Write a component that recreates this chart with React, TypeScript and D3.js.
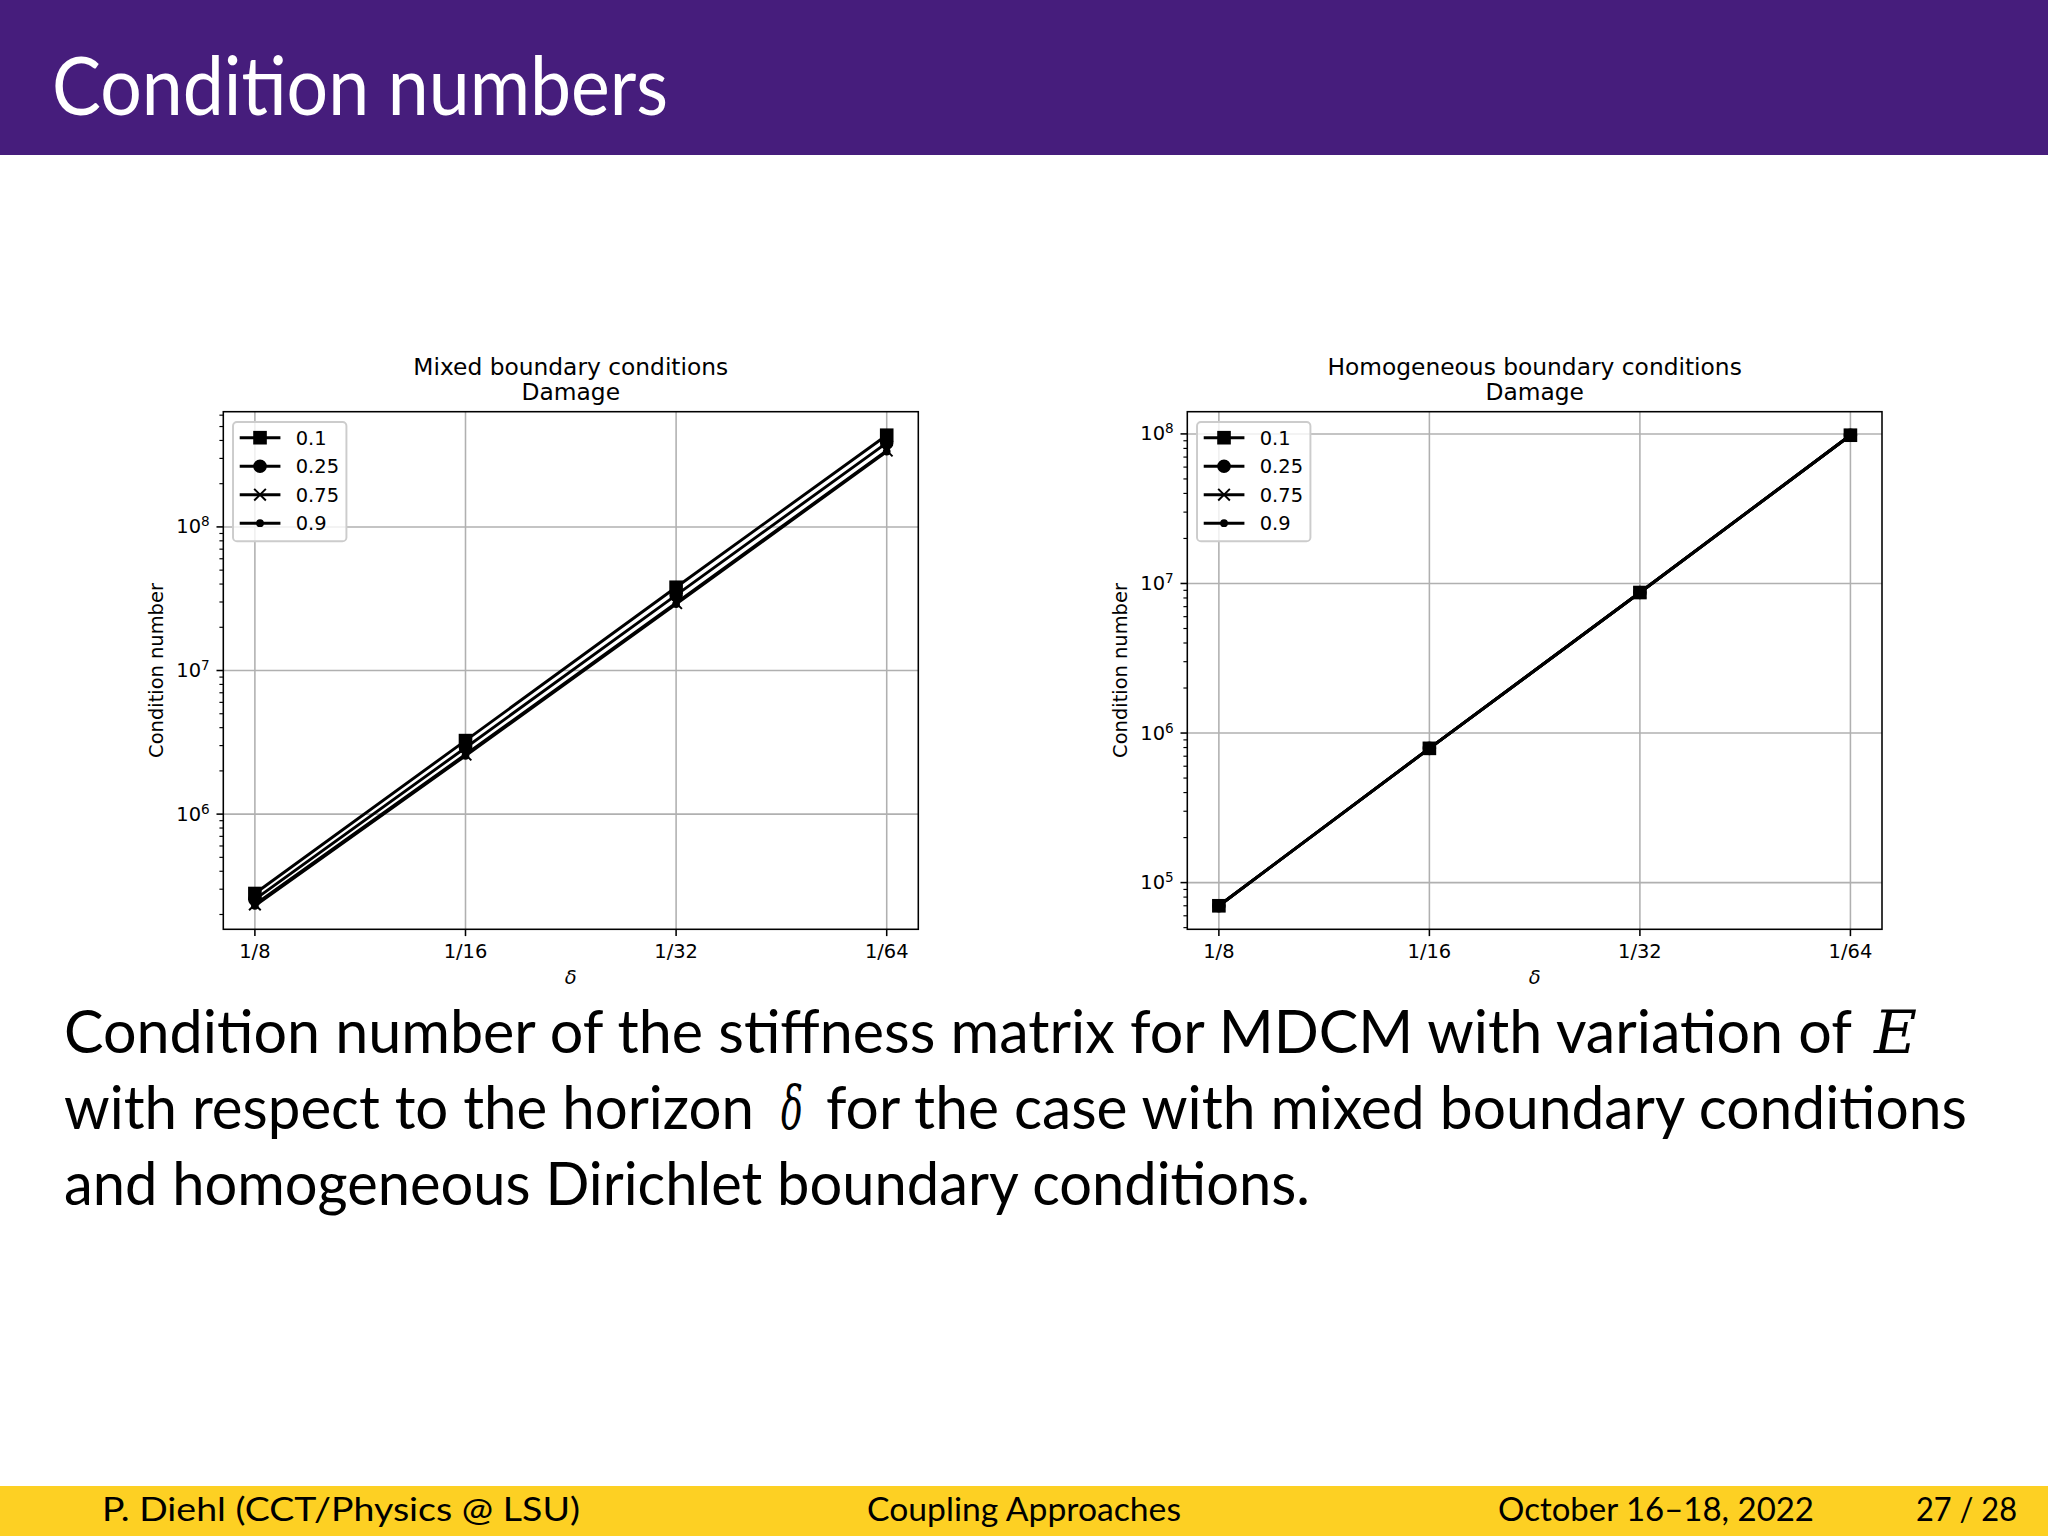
import React, { useRef, useEffect } from 'react';
import * as d3 from 'd3';

// horizon values on the x axis (plotted as 1/delta, labelled as delta)
const deltaLabels = ['1/8', '1/16', '1/32', '1/64'];
const inverseDelta = [8, 16, 32, 64];

const damageLabels = ['0.1', '0.25', '0.75', '0.9'];
const markerKinds = ['square', 'circle', 'x', 'point'];

// Mixed boundary conditions
const mixed01 = [2.8e5, 3.25e6, 3.8e7, 4.35e8];
const mixed025 = [2.55e5, 2.9e6, 3.35e7, 3.85e8];
const mixed075 = [2.35e5, 2.6e6, 2.95e7, 3.4e8];
const mixed09 = [2.3e5, 2.55e6, 2.9e7, 3.35e8];

// Homogeneous boundary conditions (all curves on top of each other)
const homog01 = [7.0e4, 7.9e5, 8.7e6, 9.8e7];
const homog025 = [7.0e4, 7.9e5, 8.7e6, 9.8e7];
const homog075 = [7.0e4, 7.9e5, 8.7e6, 9.8e7];
const homog09 = [7.0e4, 7.9e5, 8.7e6, 9.8e7];

const W = 2048;
const H = 1536;
const PT = 140 / 72; // matplotlib points -> px
const FS = 10 * PT;

const padLog = (lo: number, hi: number) => {
  const a = Math.log10(lo), b = Math.log10(hi);
  const m = (b - a) * 0.05;
  return [Math.pow(10, a - m), Math.pow(10, b + m)];
};

const drawMarker = (g: any, kind: string, cx: number, cy: number) => {
  const s = 6 * PT;
  const ew = 1 * PT;
  if (kind === 'square') {
    g.append('rect').attr('x', cx - s / 2).attr('y', cy - s / 2).attr('width', s).attr('height', s)
      .attr('fill', 'black').attr('stroke', 'black').attr('stroke-width', ew);
  } else if (kind === 'circle') {
    g.append('circle').attr('cx', cx).attr('cy', cy).attr('r', s / 2)
      .attr('fill', 'black').attr('stroke', 'black').attr('stroke-width', ew);
  } else if (kind === 'x') {
    const h = s / 2;
    g.append('path').attr('d', `M${cx - h},${cy - h}L${cx + h},${cy + h}M${cx - h},${cy + h}L${cx + h},${cy - h}`)
      .attr('stroke', 'black').attr('stroke-width', ew).attr('fill', 'none');
  } else {
    g.append('circle').attr('cx', cx).attr('cy', cy).attr('r', s / 4)
      .attr('fill', 'black').attr('stroke', 'black').attr('stroke-width', ew);
  }
};

const drawChart = (svg: any, box: any, titleLines: string[], series: number[][]) => {
  const g = svg.append('g').style('font-family', '"DejaVu Sans", sans-serif');

  const x = d3.scaleLog().base(2)
    .domain(padLog(d3.min(inverseDelta)!, d3.max(inverseDelta)!))
    .range([box.left, box.right]);

  const all = series.flat();
  const y = d3.scaleLog()
    .domain(padLog(d3.min(all)!, d3.max(all)!))
    .range([box.bottom, box.top]);

  const [ylo, yhi] = y.domain();
  const majors = d3.range(Math.ceil(Math.log10(ylo)), Math.floor(Math.log10(yhi)) + 1);
  const minors: number[] = [];
  for (let e = Math.floor(Math.log10(ylo)); e <= Math.floor(Math.log10(yhi)); e++) {
    for (let k = 2; k <= 9; k++) {
      const v = k * Math.pow(10, e);
      if (v >= ylo && v <= yhi) minors.push(v);
    }
  }

  // grid
  const grid = g.append('g').attr('stroke', '#b0b0b0').attr('stroke-width', 0.8 * PT);
  inverseDelta.forEach(v => {
    grid.append('line').attr('x1', x(v)).attr('x2', x(v)).attr('y1', box.top).attr('y2', box.bottom);
  });
  majors.forEach(e => {
    const yy = y(Math.pow(10, e));
    grid.append('line').attr('x1', box.left).attr('x2', box.right).attr('y1', yy).attr('y2', yy);
  });

  // data
  const line = d3.line<number>()
    .x((d, i) => x(inverseDelta[i]))
    .y(d => y(d));

  series.forEach((s, si) => {
    g.append('path').attr('d', line(s)).attr('fill', 'none')
      .attr('stroke', 'black').attr('stroke-width', 1.5 * PT).attr('stroke-linejoin', 'round');
    s.forEach((d, i) => drawMarker(g, markerKinds[si], x(inverseDelta[i]), y(d)));
  });

  // spines
  g.append('rect').attr('x', box.left).attr('y', box.top)
    .attr('width', box.right - box.left).attr('height', box.bottom - box.top)
    .attr('fill', 'none').attr('stroke', 'black').attr('stroke-width', 0.8 * PT);

  // x ticks
  const major = 3.5 * PT;
  const minor = 2 * PT;
  inverseDelta.forEach((v, i) => {
    g.append('line').attr('x1', x(v)).attr('x2', x(v)).attr('y1', box.bottom).attr('y2', box.bottom + major)
      .attr('stroke', 'black').attr('stroke-width', 0.8 * PT);
    g.append('text').attr('x', x(v)).attr('y', box.bottom + major + 3.5 * PT + 0.76 * FS)
      .attr('text-anchor', 'middle').attr('font-size', FS).text(deltaLabels[i]);
  });

  // y ticks
  majors.forEach(e => {
    const yy = y(Math.pow(10, e));
    g.append('line').attr('x1', box.left - major).attr('x2', box.left).attr('y1', yy).attr('y2', yy)
      .attr('stroke', 'black').attr('stroke-width', 0.8 * PT);
    const t = g.append('text').attr('x', box.left - major - 3.5 * PT).attr('y', yy + 6.5)
      .attr('text-anchor', 'end').attr('font-size', FS);
    t.append('tspan').text('10');
    t.append('tspan').attr('font-size', FS * 0.7).attr('dy', -7).text(String(e));
  });
  minors.forEach(v => {
    const yy = y(v);
    g.append('line').attr('x1', box.left - minor).attr('x2', box.left).attr('y1', yy).attr('y2', yy)
      .attr('stroke', 'black').attr('stroke-width', 0.6 * PT);
  });

  const cx = (box.left + box.right) / 2;
  const cy = (box.top + box.bottom) / 2;

  // axis labels
  g.append('text').attr('x', cx).attr('y', 984).attr('text-anchor', 'middle')
    .attr('font-size', FS).attr('font-style', 'italic').text('δ');
  g.append('text').attr('transform', `translate(${box.left - 60},${cy}) rotate(-90)`)
    .attr('text-anchor', 'middle').attr('font-size', FS).text('Condition number');

  // title
  titleLines.forEach((t, i) => {
    g.append('text').attr('x', cx).attr('y', 374.5 + i * 25.7).attr('text-anchor', 'middle')
      .attr('font-size', 12 * PT).text(t);
  });

  // legend
  const lx = box.left + 0.5 * FS;
  const ly = box.top + 10.3;
  const leg = g.append('g');
  leg.append('rect').attr('x', lx).attr('y', ly).attr('width', 113.4).attr('height', 119.3)
    .attr('rx', 0.2 * FS).attr('fill', 'white').attr('fill-opacity', 0.8)
    .attr('stroke', '#cccccc').attr('stroke-width', 1 * PT);
  damageLabels.forEach((lab, i) => {
    const ry = ly + 15.7 + i * 28.5;
    leg.append('line').attr('x1', lx + 6.7).attr('x2', lx + 47.4).attr('y1', ry).attr('y2', ry)
      .attr('stroke', 'black').attr('stroke-width', 1.5 * PT);
    drawMarker(leg, markerKinds[i], lx + 27, ry);
    leg.append('text').attr('x', lx + 62.7).attr('y', ry + 7).attr('font-size', FS).text(lab);
  });
};

const App = () => {
  const svgRef = useRef<SVGSVGElement>(null);

  useEffect(() => {
    const svg = d3.select(svgRef.current);
    svg.selectAll('*').remove();

    svg.append('rect').attr('width', W).attr('height', H).attr('fill', 'white');

    // header
    svg.append('rect').attr('x', 0).attr('y', 0).attr('width', W).attr('height', 155).attr('fill', '#461d7c');
    svg.append('text').attr('x', 52).attr('y', 115).attr('font-size', 82).attr('fill', 'white')
      .style('font-family', 'Lato, sans-serif')
      .attr('textLength', 616).attr('lengthAdjust', 'spacingAndGlyphs')
      .text('Condition numbers');

    drawChart(svg, { left: 223.3, right: 918.3, top: 411.7, bottom: 929.3 },
      ['Mixed boundary conditions', 'Damage'], [mixed01, mixed025, mixed075, mixed09]);
    drawChart(svg, { left: 1187.3, right: 1882, top: 411.7, bottom: 929.3 },
      ['Homogeneous boundary conditions', 'Damage'], [homog01, homog025, homog075, homog09]);

    // caption: plain runs and math symbols as separate pieces
    const cap = svg.append('g').style('font-family', 'Lato, sans-serif').attr('font-size', 60).attr('fill', 'black');
    const math = (xx: number, yy: number, len: number, s: string) => cap.append('text').attr('x', xx).attr('y', yy)
      .style('font-family', '"DejaVu Serif", serif').attr('font-style', 'italic')
      .attr('textLength', len).attr('lengthAdjust', 'spacingAndGlyphs').text(s);
    const run = (xx: number, yy: number, len: number, s: string) => cap.append('text').attr('x', xx).attr('y', yy)
      .attr('textLength', len).attr('lengthAdjust', 'spacingAndGlyphs').text(s);

    run(64, 1053, 1788, 'Condition number of the stiffness matrix for MDCM with variation of');
    math(1874, 1053, 43, 'E');
    run(64, 1129, 690, 'with respect to the horizon');
    math(781, 1129, 22, 'δ');
    run(826, 1129, 1141, 'for the case with mixed boundary conditions');
    run(64, 1205, 1246, 'and homogeneous Dirichlet boundary conditions.');

    // footer
    svg.append('rect').attr('x', 0).attr('y', 1486).attr('width', W).attr('height', 50).attr('fill', '#fdd023');
    const foot = svg.append('g').style('font-family', 'Lato, sans-serif').attr('font-size', 33).attr('fill', 'black');
    foot.append('text').attr('x', 102).attr('y', 1521).attr('textLength', 478).attr('lengthAdjust', 'spacingAndGlyphs')
      .text('P. Diehl  (CCT/Physics @ LSU)');
    foot.append('text').attr('x', 867).attr('y', 1521).attr('textLength', 314).attr('lengthAdjust', 'spacingAndGlyphs')
      .text('Coupling Approaches');
    foot.append('text').attr('x', 1498).attr('y', 1521).attr('textLength', 316).attr('lengthAdjust', 'spacingAndGlyphs')
      .text('October 16–18, 2022');
    foot.append('text').attr('x', 1916).attr('y', 1521).attr('textLength', 101).attr('lengthAdjust', 'spacingAndGlyphs')
      .text('27 / 28');
  }, []);

  return (
    <svg ref={svgRef} width={W} height={H}
      style={{ position: 'absolute', left: 0, top: 0, display: 'block' }} />
  );
};

export default App;
